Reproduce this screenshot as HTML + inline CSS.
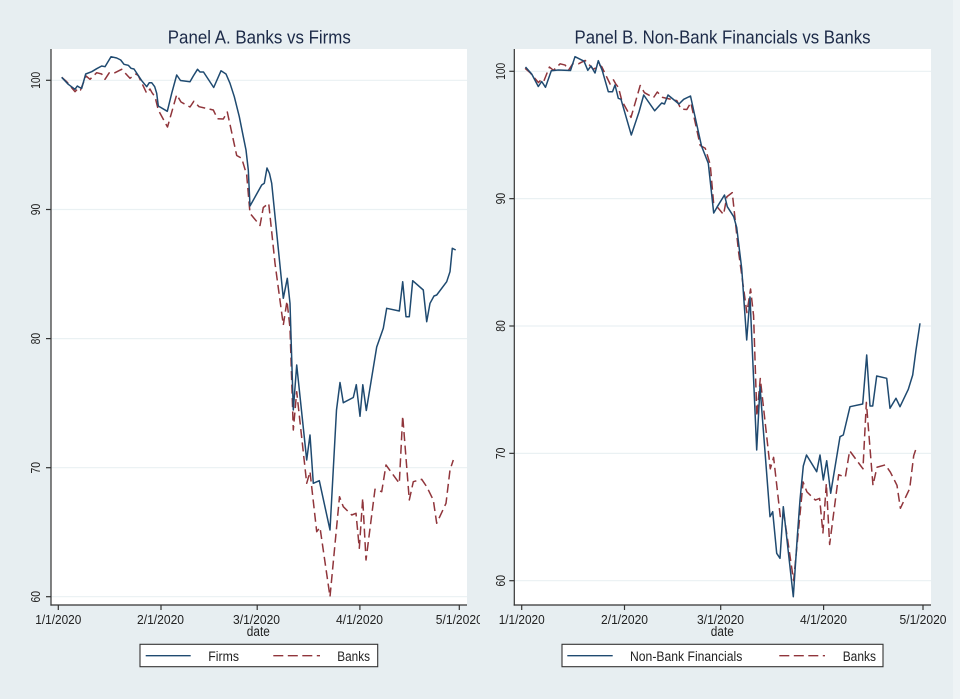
<!DOCTYPE html>
<html>
<head>
<meta charset="utf-8">
<style>
  html, body { margin:0; padding:0; background:#e7eef1; }
  svg { display:block; }
  text { font-family: "Liberation Sans", Arial, sans-serif; }
</style>
</head>
<body>
<svg width="960" height="699" viewBox="0 0 960 699" xmlns="http://www.w3.org/2000/svg">
  <defs>
    <clipPath id="clipA"><rect x="0" y="0" width="480" height="699"/></clipPath>
  </defs>
  <rect x="0" y="0" width="960" height="699" fill="#e7eef1"/>
  <rect x="953" y="0" width="7" height="699" fill="#eef3f5"/>

  <!-- ================= PANEL A ================= -->
  <g clip-path="url(#clipA)">
    <rect x="51" y="49" width="416" height="556" fill="#ffffff"/>
    <g stroke="#eaf1f3" stroke-width="1.2">
      <line x1="51" y1="80.3" x2="467" y2="80.3"/>
      <line x1="51" y1="209.5" x2="467" y2="209.5"/>
      <line x1="51" y1="338.6" x2="467" y2="338.6"/>
      <line x1="51" y1="467.7" x2="467" y2="467.7"/>
      <line x1="51" y1="596.7" x2="467" y2="596.7"/>
    </g>
    <text x="259.3" y="43.5" font-size="18" fill="#1c2a48" text-anchor="middle" textLength="183" lengthAdjust="spacingAndGlyphs">Panel A. Banks vs Firms</text>

    <polyline fill="none" stroke="#90353b" stroke-width="1.5" stroke-dasharray="9 4.5" stroke-linejoin="round"
      points="61.7,77.3 66.7,81.7 75,91.7 78.3,88.3 80.5,90 86,76 90,79.3 96.7,72.7 101.7,74 105,79.3 109.3,72.7 115,72.7 121.7,69.3 130,78.3 136,74 138.3,75.7 146.7,93.3 150,89 152,92.7 155,96.7 158.3,110 167.5,127 176.7,94.7 181,102 190,107 193.8,101.3 199,106.7 213.3,110 217.5,118.7 223.3,119 227.3,112 236.7,155.5 241.7,158.3 246.7,175 250,213.3 260,225.5 263.3,207.5 268.7,203.3 275,263.3 283.3,325 287,301 290,328 293.3,430 296.7,391.7 306.7,483.3 310,471.7 316.7,531.7 320,527.5 330,596.7 339.5,496.7 343.3,506.7 351.7,515 356,513.3 359.3,548.3 362.7,498.3 366,560 375,489.3 381.7,491.7 386,465 399.3,483.3 402.7,416 409.3,500 413.3,481.7 421.7,479.3 426.7,486.7 433.3,500 436.7,523.3 446,503.3 450,470 453.3,460"/>
    <polyline fill="none" stroke="#1f4a70" stroke-width="1.5" stroke-linejoin="round"
      points="61.7,77.3 68.3,84.3 75,89.3 77.3,86 79.3,87.3 81.7,88.3 85.7,74 91.7,71.7 96.7,68.7 101.7,66 105,66.7 111,56.7 116.7,58 120.7,60 124,64.3 128.3,65.3 131,68.3 134,69 137.3,74 141.7,80.7 146.7,86.7 149.3,82.7 151.7,82.7 154.7,86.7 156.7,93.3 158.3,106 167.3,111.3 171.7,93.3 176.7,75 180.5,80.5 190,81.7 193.3,76 197.5,69.3 200,72 203.5,72 213.7,87.5 221,70.8 226,74 230,83.3 234.3,96.7 239.3,116.7 243.3,136.7 246,150 248.3,170 250,206 261.7,185 264.3,183.3 267,168 269.5,173.5 271.7,183.3 283.3,298.3 287.3,278.3 290,303.3 293.3,410 296.7,365 306.7,460 310,435 313.3,483.3 319.3,480.7 330,530 336.5,410 340,382.5 343.3,402.7 353.3,397.5 356.3,384.7 360,416.3 362.8,384.7 366.3,410.5 376.7,347 383.3,328.3 386.7,308.3 399.3,311 402.7,281.7 406,316.7 409.3,316.7 412.7,280.7 423.3,290 426.7,321.7 430,303.3 434,296 436.7,295 446.7,281.7 450,271.7 452.3,248.3 455.7,250"/>

    <g stroke="#333" stroke-width="1.2">
      <line x1="51" y1="49" x2="51" y2="605.6"/>
      <line x1="50.4" y1="605" x2="467" y2="605"/>
      <line x1="46" y1="80.3" x2="51" y2="80.3"/>
      <line x1="46" y1="209.5" x2="51" y2="209.5"/>
      <line x1="46" y1="338.6" x2="51" y2="338.6"/>
      <line x1="46" y1="467.7" x2="51" y2="467.7"/>
      <line x1="46" y1="596.7" x2="51" y2="596.7"/>
      <line x1="58.3" y1="605" x2="58.3" y2="610"/>
      <line x1="161" y1="605" x2="161" y2="610"/>
      <line x1="257.2" y1="605" x2="257.2" y2="610"/>
      <line x1="359.9" y1="605" x2="359.9" y2="610"/>
      <line x1="459.3" y1="605" x2="459.3" y2="610"/>
    </g>
    <g font-size="13" fill="#222" text-anchor="middle">
      <text x="40" y="80.3" transform="rotate(-90 40 80.3)" textLength="17" lengthAdjust="spacingAndGlyphs">100</text>
      <text x="40" y="209.5" transform="rotate(-90 40 209.5)" textLength="11.5" lengthAdjust="spacingAndGlyphs">90</text>
      <text x="40" y="338.6" transform="rotate(-90 40 338.6)" textLength="11.5" lengthAdjust="spacingAndGlyphs">80</text>
      <text x="40" y="467.7" transform="rotate(-90 40 467.7)" textLength="11.5" lengthAdjust="spacingAndGlyphs">70</text>
      <text x="40" y="596.7" transform="rotate(-90 40 596.7)" textLength="11.5" lengthAdjust="spacingAndGlyphs">60</text>
    </g>
    <g font-size="12.6" fill="#222" text-anchor="middle">
      <text x="58.3" y="624" textLength="46" lengthAdjust="spacingAndGlyphs">1/1/2020</text>
      <text x="160.5" y="624" textLength="47" lengthAdjust="spacingAndGlyphs">2/1/2020</text>
      <text x="256.5" y="624" textLength="47" lengthAdjust="spacingAndGlyphs">3/1/2020</text>
      <text x="359.5" y="624" textLength="47" lengthAdjust="spacingAndGlyphs">4/1/2020</text>
      <text x="459.3" y="624" textLength="47" lengthAdjust="spacingAndGlyphs">5/1/2020</text>
      <text x="258.3" y="636" font-size="13.5" textLength="23" lengthAdjust="spacingAndGlyphs">date</text>
    </g>
    <rect x="140" y="644.3" width="237.7" height="22.4" fill="#ffffff" stroke="#333" stroke-width="1.1"/>
    <line x1="145.7" y1="655.7" x2="190.7" y2="655.7" stroke="#1f4a70" stroke-width="1.4"/>
    <text x="208.3" y="661" font-size="13.5" fill="#222" textLength="30.7" lengthAdjust="spacingAndGlyphs">Firms</text>
    <line x1="273.3" y1="655.7" x2="320" y2="655.7" stroke="#90353b" stroke-width="1.4" stroke-dasharray="10 4.5"/>
    <text x="337.3" y="661" font-size="13.5" fill="#222" textLength="32.7" lengthAdjust="spacingAndGlyphs">Banks</text>
  </g>

  <!-- ================= PANEL B ================= -->
  <g>
    <rect x="514.3" y="49" width="416.7" height="556" fill="#ffffff"/>
    <g stroke="#eaf1f3" stroke-width="1.2">
      <line x1="514.3" y1="71.3" x2="931" y2="71.3"/>
      <line x1="514.3" y1="198.65" x2="931" y2="198.65"/>
      <line x1="514.3" y1="326" x2="931" y2="326"/>
      <line x1="514.3" y1="453.35" x2="931" y2="453.35"/>
      <line x1="514.3" y1="580.7" x2="931" y2="580.7"/>
    </g>
    <text x="722.5" y="43.5" font-size="18" fill="#1c2a48" text-anchor="middle" textLength="296" lengthAdjust="spacingAndGlyphs">Panel B. Non-Bank Financials vs Banks</text>

    <polyline fill="none" stroke="#90353b" stroke-width="1.5" stroke-dasharray="9 4.5" stroke-linejoin="round" vector-effect="non-scaling-stroke"
      transform="matrix(1.00075 0 0 0.9864 463.36 -7.91)"
      points="61.7,77.3 66.7,81.7 75,91.7 78.3,88.3 80.5,90 86,76 90,79.3 96.7,72.7 101.7,74 105,79.3 109.3,72.7 115,72.7 121.7,69.3 130,78.3 136,74 138.3,75.7 146.7,93.3 150,89 152,92.7 155,96.7 158.3,110 167.5,127 176.7,94.7 181,102 190,107 193.8,101.3 199,106.7 213.3,110 217.5,118.7 223.3,119 227.3,112 236.7,155.5 241.7,158.3 246.7,175 250,213.3 260,225.5 263.3,207.5 268.7,203.3 275,263.3 283.3,325 287,301 290,328 293.3,430 296.7,391.7 306.7,483.3 310,471.7 316.7,531.7 320,527.5 330,596.7 339.5,496.7 343.3,506.7 351.7,515 356,513.3 359.3,548.3 362.7,498.3 366,560 375,489.3 381.7,491.7 386,465 399.3,483.3 402.7,416 409.3,500 413.3,481.7 421.7,479.3 426.7,486.7 433.3,500 436.7,523.3 446,503.3 450,470 453.3,460"/>
    <polyline fill="none" stroke="#1f4a70" stroke-width="1.5" stroke-linejoin="round"
      points="525.5,67 531.7,74 538.3,86.5 541.7,81.5 545.5,87.3 551.3,70.8 558.3,70 570.5,70.5 575,56.7 584,61.2 587.8,70.3 591,66 595,73 598.3,60.7 602.3,70.7 608.3,91.7 612.5,91.7 615,85 618.3,98.3 621,99.3 631.3,135 639,112 643.7,95 654.7,110.8 661.7,103 664.5,104 668,95 679,104 683.7,99.3 690.5,96 694,112 701.5,146 708.3,163.3 713.7,213 717.3,206.7 724.5,195 727.3,206.7 733.7,216.7 736.7,227.5 741.7,268.5 746.7,340 750,297 756.7,450 760,386.7 770,516.7 772.7,511.7 776.7,553.3 780,558.3 783.3,506.7 793.3,596.7 797.3,536.7 800,500 803.3,466 806.5,455 816.7,471.7 820,455 823.3,480 826.7,460.7 830.7,493.3 840,436.7 843.3,435 850,406.7 862.7,404 866.7,355 870,406 872.7,406 876.7,376 886.7,378.3 890,408.3 896,398.3 900,406.7 908.3,389.3 912.7,375 916,350 920,323.3"/>

    <g stroke="#333" stroke-width="1.2">
      <line x1="514.3" y1="49" x2="514.3" y2="605.6"/>
      <line x1="513.7" y1="605" x2="931" y2="605"/>
      <line x1="509.3" y1="71.3" x2="514.3" y2="71.3"/>
      <line x1="509.3" y1="198.65" x2="514.3" y2="198.65"/>
      <line x1="509.3" y1="326" x2="514.3" y2="326"/>
      <line x1="509.3" y1="453.35" x2="514.3" y2="453.35"/>
      <line x1="509.3" y1="580.7" x2="514.3" y2="580.7"/>
      <line x1="521.7" y1="605" x2="521.7" y2="610"/>
      <line x1="624.5" y1="605" x2="624.5" y2="610"/>
      <line x1="720.7" y1="605" x2="720.7" y2="610"/>
      <line x1="823.6" y1="605" x2="823.6" y2="610"/>
      <line x1="923" y1="605" x2="923" y2="610"/>
    </g>
    <g font-size="13" fill="#222" text-anchor="middle">
      <text x="505" y="71.3" transform="rotate(-90 505 71.3)" textLength="17" lengthAdjust="spacingAndGlyphs">100</text>
      <text x="505" y="198.65" transform="rotate(-90 505 198.65)" textLength="11.5" lengthAdjust="spacingAndGlyphs">90</text>
      <text x="505" y="326" transform="rotate(-90 505 326)" textLength="11.5" lengthAdjust="spacingAndGlyphs">80</text>
      <text x="505" y="453.35" transform="rotate(-90 505 453.35)" textLength="11.5" lengthAdjust="spacingAndGlyphs">70</text>
      <text x="505" y="580.7" transform="rotate(-90 505 580.7)" textLength="11.5" lengthAdjust="spacingAndGlyphs">60</text>
    </g>
    <g font-size="12.6" fill="#222" text-anchor="middle">
      <text x="521.7" y="624" textLength="46" lengthAdjust="spacingAndGlyphs">1/1/2020</text>
      <text x="624.5" y="624" textLength="47" lengthAdjust="spacingAndGlyphs">2/1/2020</text>
      <text x="720.5" y="624" textLength="47" lengthAdjust="spacingAndGlyphs">3/1/2020</text>
      <text x="823.5" y="624" textLength="47" lengthAdjust="spacingAndGlyphs">4/1/2020</text>
      <text x="923" y="624" textLength="47" lengthAdjust="spacingAndGlyphs">5/1/2020</text>
      <text x="722.3" y="636" font-size="13.5" textLength="23" lengthAdjust="spacingAndGlyphs">date</text>
    </g>
    <rect x="562" y="644.3" width="321" height="22.4" fill="#ffffff" stroke="#333" stroke-width="1.1"/>
    <line x1="567.3" y1="655.7" x2="612.7" y2="655.7" stroke="#1f4a70" stroke-width="1.4"/>
    <text x="630" y="661" font-size="13.5" fill="#222" textLength="112.3" lengthAdjust="spacingAndGlyphs">Non-Bank Financials</text>
    <line x1="779.3" y1="655.7" x2="825" y2="655.7" stroke="#90353b" stroke-width="1.4" stroke-dasharray="10 4.5"/>
    <text x="842.7" y="661" font-size="13.5" fill="#222" textLength="33.3" lengthAdjust="spacingAndGlyphs">Banks</text>
  </g>
</svg>
</body>
</html>
